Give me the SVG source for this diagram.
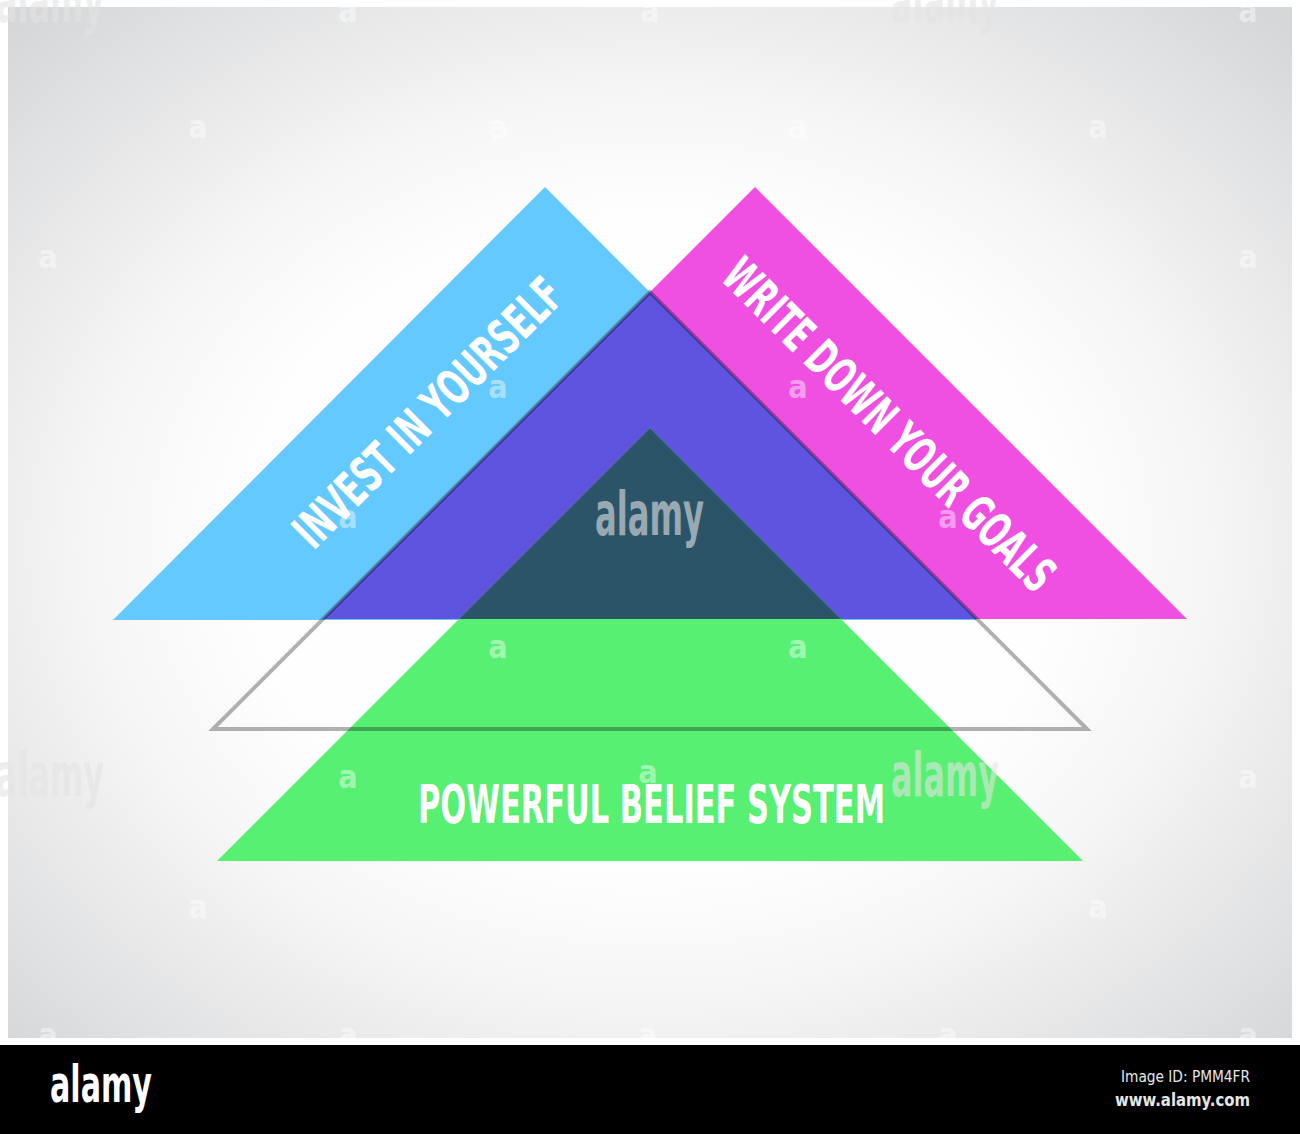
<svg xmlns="http://www.w3.org/2000/svg" width="1300" height="1134" viewBox="0 0 1300 1134">
  <defs>
    <radialGradient id="bg" cx="0.5" cy="0.52" r="0.7">
      <stop offset="0" stop-color="#ffffff"/>
      <stop offset="0.45" stop-color="#fefefe"/>
      <stop offset="0.62" stop-color="#f6f6f6"/>
      <stop offset="0.74" stop-color="#ececed"/>
      <stop offset="0.88" stop-color="#e0e1e2"/>
      <stop offset="1" stop-color="#d6d7d9"/>
    </radialGradient>
    <style>
      .lbl { font-family: "Liberation Sans Narrow", "Arial Narrow", "DejaVu Sans Condensed", "Liberation Sans", sans-serif; font-stretch: condensed; font-weight: bold; fill: #ffffff; }
      .wm { font-family: "Liberation Sans Narrow", "Arial Narrow", "DejaVu Sans Condensed", "Liberation Sans", sans-serif; font-stretch: condensed; font-weight: bold; }
      .wmbig { fill: #e4e4e4; fill-opacity: 0.6; font-size: 61px; }
      .wma { fill: #ffffff; fill-opacity: 0.45; font-size: 32px; }
      .foot { font-family: "Liberation Sans Narrow", "Arial Narrow", "DejaVu Sans Condensed", "Liberation Sans", sans-serif; font-stretch: condensed; fill: #e6e6e6; }
    </style>
  </defs>

  <!-- page -->
  <rect x="0" y="0" width="1300" height="1134" fill="#ffffff"/>
  <rect x="8" y="7" width="1284" height="1031" fill="url(#bg)"/>

  <!-- shapes -->
  <g id="node-invest">
    <polygon points="545,187 113,620 977,620" fill="#63c9fe"/>
  </g>
  <g id="node-goals">
    <polygon points="755,187 323,619 1187,619" fill="#f050e2"/>
  </g>
  <g id="overlap-top">
    <polygon points="650,292 323,619 977,619" fill="#5e54e0"/>
  </g>
  <g id="node-belief">
    <polygon points="650,428 217,861 1083,861" fill="#58f072"/>
  </g>
  <g id="overlap-core">
    <polygon points="650,428 459,619 841,619" fill="#2b5469"/>
  </g>
  <g id="connectors">
    <polygon points="650,292 213,729 1087,729" fill="none" stroke="#000000" stroke-opacity="0.3" stroke-width="4" stroke-linejoin="miter"/>
  </g>

  <!-- labels -->
  <g id="label-invest" transform="translate(427.75,412.25) rotate(-45)">
    <text class="lbl" x="0" y="17.5" font-size="49" text-anchor="middle" textLength="358" lengthAdjust="spacingAndGlyphs">INVEST IN YOURSELF</text>
  </g>
  <g id="label-goals" transform="translate(889.5,424.5) rotate(45)">
    <text class="lbl" x="0" y="17.5" font-size="49" text-anchor="middle" textLength="447" lengthAdjust="spacingAndGlyphs">WRITE DOWN YOUR GOALS</text>
  </g>
  <g id="label-belief">
    <text class="lbl" x="651.5" y="823" font-size="53" text-anchor="middle" textLength="467" lengthAdjust="spacingAndGlyphs">POWERFUL BELIEF SYSTEM</text>
  </g>

  <!-- watermarks -->
  <g id="watermarks" class="wm">
    <text class="wmbig" x="595" y="535" textLength="109" lengthAdjust="spacingAndGlyphs">alamy</text>
    <text class="wmbig" x="891" y="796" textLength="108" lengthAdjust="spacingAndGlyphs">alamy</text>
    <text class="wmbig" x="-4" y="796" textLength="108" lengthAdjust="spacingAndGlyphs">alamy</text>
    <text class="wmbig" x="-4" y="22" textLength="108" lengthAdjust="spacingAndGlyphs">alamy</text>
    <text class="wmbig" x="891" y="22" textLength="108" lengthAdjust="spacingAndGlyphs">alamy</text>
    <g text-anchor="middle">
      <text class="wma" x="348" y="22">a</text>
      <text class="wma" x="650" y="22">a</text>
      <text class="wma" x="1248" y="22">a</text>
      <text class="wma" x="198" y="138">a</text>
      <text class="wma" x="498" y="138">a</text>
      <text class="wma" x="798" y="138">a</text>
      <text class="wma" x="1098" y="138">a</text>
      <text class="wma" x="48" y="268">a</text>
      <text class="wma" x="1248" y="268">a</text>
      <text class="wma" x="498" y="398">a</text>
      <text class="wma" x="798" y="398">a</text>
      <text class="wma" x="348" y="528">a</text>
      <text class="wma" x="948" y="528">a</text>
      <text class="wma" x="498" y="658">a</text>
      <text class="wma" x="798" y="658">a</text>
      <text class="wma" x="348" y="788">a</text>
      <text class="wma" x="648" y="783">a</text>
      <text class="wma" x="1248" y="788">a</text>
      <text class="wma" x="198" y="918">a</text>
      <text class="wma" x="1098" y="918">a</text>
      <text class="wma" x="48" y="1046">a</text>
      <text class="wma" x="348" y="1046">a</text>
      <text class="wma" x="648" y="1046">a</text>
      <text class="wma" x="948" y="1046">a</text>
      <text class="wma" x="1248" y="1046">a</text>
    </g>
  </g>

  <!-- white strip and footer bar -->
  <rect x="0" y="1038" width="1300" height="7" fill="#ffffff"/>
  <g id="footer">
    <rect x="0" y="1045" width="1300" height="89" fill="#000000"/>
    <text class="foot" x="50" y="1102" font-size="52" font-weight="bold" textLength="102" lengthAdjust="spacingAndGlyphs" style="fill:#ffffff">alamy</text>
    <text class="foot" x="1250" y="1082" font-size="15.5" text-anchor="end" textLength="129" lengthAdjust="spacingAndGlyphs">Image ID: PMM4FR</text>
    <text class="foot" x="1250" y="1106" font-size="18" font-weight="bold" text-anchor="end" textLength="135" lengthAdjust="spacingAndGlyphs">www.alamy.com</text>
  </g>
</svg>
